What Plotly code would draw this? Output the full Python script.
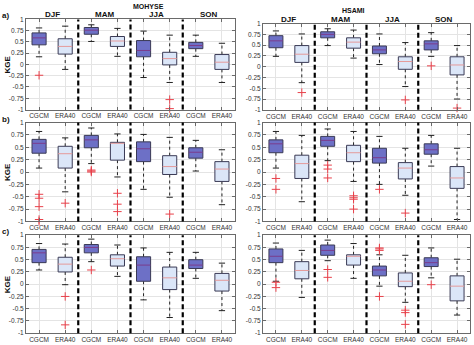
import plotly.graph_objects as go

# ---------------- data ----------------
SEASONS = ["DJF", "MAM", "JJA", "SON"]
CATEGORIES = ["CGCM", "ERA40", "CGCM", "ERA40", "CGCM", "ERA40", "CGCM", "ERA40"]
Y_TICKS = [-1, -0.75, -0.5, -0.25, 0, 0.25, 0.5, 0.75, 1]
Y_TICK_TEXT = ["-1", "-0.75", "-0.5", "-0.25", "0", "0.25", "0.5", "0.75", "1"]
MODELS = ["MOHYSE", "HSAMI"]
PANEL_LABELS = ["a)", "b)", "c)"]

# each row: [lower whisker, q1, median, q3, upper whisker]
mohyse_a = [[0.17, 0.435, 0.59, 0.70, 0.81], [-0.11, 0.23, 0.40, 0.57, 0.85],
            [0.51, 0.67, 0.76, 0.82, 0.88], [0.18, 0.40, 0.52, 0.62, 0.80],
            [-0.29, 0.17, 0.31, 0.53, 0.74], [-0.40, -0.01, 0.13, 0.27, 0.65],
            [0.18, 0.35, 0.42, 0.49, 0.65], [-0.40, -0.11, 0.05, 0.22, 0.47]]
mohyse_a_out = [[-0.24], [], [], [], [], [-0.78, -0.98], [], []]

hsami_a = [[0.24, 0.44, 0.60, 0.72, 0.83], [-0.37, 0.10, 0.29, 0.49, 0.76],
           [0.49, 0.67, 0.75, 0.81, 0.88], [0.20, 0.43, 0.57, 0.67, 0.85],
           [0.05, 0.30, 0.39, 0.48, 0.76], [-0.46, -0.06, 0.12, 0.23, 0.56],
           [0.24, 0.39, 0.53, 0.60, 0.79], [-0.75, -0.19, 0.04, 0.23, 0.49]]
hsami_a_out = [[], [-0.60], [], [], [], [-0.77], [0.02], [-0.96]]

mohyse_b = [[0.08, 0.38, 0.58, 0.66, 0.82], [-0.40, 0.08, 0.37, 0.52, 0.69],
            [0.17, 0.49, 0.65, 0.74, 0.89], [-0.10, 0.24, 0.58, 0.60, 0.77],
            [-0.35, 0.21, 0.47, 0.61, 0.76], [-0.51, -0.05, 0.11, 0.33, 0.70],
            [0.02, 0.28, 0.40, 0.49, 0.64], [-0.66, -0.19, 0.06, 0.21, 0.45]]
mohyse_b_out = [[-0.45, -0.53, -0.70, -0.96, -1.0], [-0.63], [0.04, 0.02, 0.0],
                [-0.43, -0.65, -0.80], [], [-0.85], [], []]

hsami_b = [[0.08, 0.39, 0.57, 0.65, 0.82], [-0.60, -0.13, 0.17, 0.34, 0.74],
           [0.23, 0.52, 0.64, 0.72, 0.87], [-0.19, 0.21, 0.39, 0.54, 0.82],
           [-0.25, 0.18, 0.29, 0.48, 0.72], [-0.47, -0.14, 0.08, 0.19, 0.48],
           [0.12, 0.36, 0.45, 0.57, 0.74], [-0.96, -0.33, -0.12, 0.11, 0.48]]
hsami_b_out = [[-0.13, -0.35], [], [0.14, 0.06, -0.12], [-0.48, -0.52, -0.55, -0.75],
               [-0.35], [-0.83], [], []]

mohyse_c = [[0.29, 0.44, 0.64, 0.71, 0.83], [-0.01, 0.25, 0.41, 0.55, 0.82],
            [0.46, 0.64, 0.75, 0.81, 0.92], [0.16, 0.37, 0.52, 0.60, 0.80],
            [-0.32, 0.06, 0.39, 0.56, 0.74], [-0.68, -0.11, 0.13, 0.35, 0.65],
            [0.12, 0.32, 0.39, 0.50, 0.65], [-0.54, -0.14, 0.08, 0.22, 0.43]]
mohyse_c_out = [[], [-0.25, -0.83], [0.29], [], [], [], [], []]

hsami_c = [[0.06, 0.44, 0.57, 0.72, 0.84], [-0.27, 0.11, 0.28, 0.46, 0.69],
           [0.48, 0.59, 0.69, 0.80, 0.90], [0.12, 0.39, 0.57, 0.60, 0.83],
           [-0.04, 0.17, 0.29, 0.37, 0.60], [-0.37, -0.05, 0.06, 0.23, 0.59],
           [0.13, 0.36, 0.44, 0.54, 0.74], [-0.63, -0.34, -0.04, 0.17, 0.51]]
hsami_c_out = [[0.04, -0.07], [], [0.30, 0.14], [], [0.74, 0.72, 0.69, -0.25],
               [-0.53, -0.58, -0.82], [-0.01], []]

PANELS = [(mohyse_a, mohyse_a_out), (hsami_a, hsami_a_out),
          (mohyse_b, mohyse_b_out), (hsami_b, hsami_b_out),
          (mohyse_c, mohyse_c_out), (hsami_c, hsami_c_out)]

# ---------------- styling / layout ----------------
W, H = 474, 345
FONT = "Liberation Sans, Arial, sans-serif"
FILL = ["#6d70c6", "#dbe6f8"]
MEDIAN = ["#7b3c8c", "#e59a9a"]
EDGE = "#3a3a55"
HW, CW = 0.27, 0.12
TICKFONT = dict(size=6.5, color="#333333", family=FONT)

X_DOM = [[26 / W, 235 / W], [263 / W, 470 / W]]
# pixel top/bottom per (row, col)
Y_PIX = {(0, 0): (15.7, 107.7), (0, 1): (20, 108),
         (1, 0): (121, 222), (1, 1): (121, 222),
         (2, 0): (236, 336), (2, 1): (236, 336)}

fig = go.Figure()
layout_axes = {}

for k, (stats, outs) in enumerate(PANELS):
    r, c = divmod(k, 2)
    sfx = "" if k == 0 else str(k + 1)
    xa, ya = "x" + sfx, "y" + sfx
    top, bot = Y_PIX[(r, c)]
    layout_axes["xaxis" + sfx] = dict(
        domain=X_DOM[c], anchor=ya, range=[0.5, 8.5],
        tickvals=list(range(1, 9)), ticktext=CATEGORIES,
        showgrid=True, gridcolor="#e4e4e4", gridwidth=1,
        showline=True, linecolor="#6a6a6a", linewidth=1, mirror="ticks",
        ticks="inside", ticklen=3, tickcolor="#6a6a6a",
        tickfont=TICKFONT, zeroline=False)
    layout_axes["yaxis" + sfx] = dict(
        domain=[1 - bot / H, 1 - top / H], anchor=xa, range=[-1, 1],
        tickvals=Y_TICKS, ticktext=Y_TICK_TEXT,
        showgrid=True, gridcolor="#e4e4e4", gridwidth=1,
        showline=True, linecolor="#6a6a6a", linewidth=1, mirror="ticks",
        ticks="inside", ticklen=3, tickcolor="#6a6a6a",
        tickfont=TICKFONT, zeroline=False)

    # whiskers (dotted) and caps
    wx, wy, cx, cy = [], [], [], []
    for i, (lo, q1, md, q3, hi) in enumerate(stats):
        p = i + 1
        wx += [p, p, None, p, p, None]
        wy += [q3, hi, None, q1, lo, None]
        cx += [p - CW, p + CW, None, p - CW, p + CW, None]
        cy += [hi, hi, None, lo, lo, None]
    fig.add_trace(go.Scatter(x=wx, y=wy, mode="lines", xaxis=xa, yaxis=ya,
                             line=dict(color="#222222", width=1, dash="dot"),
                             hoverinfo="skip"))
    fig.add_trace(go.Scatter(x=cx, y=cy, mode="lines", xaxis=xa, yaxis=ya,
                             line=dict(color="#222222", width=1), hoverinfo="skip"))

    # boxes and medians per category
    for kind in (0, 1):
        bx, by, mx, my = [], [], [], []
        for i in range(kind, 8, 2):
            p = i + 1
            lo, q1, md, q3, hi = stats[i]
            bx += [p - HW, p + HW, p + HW, p - HW, p - HW, None]
            by += [q1, q1, q3, q3, q1, None]
            mx += [p - HW, p + HW, None]
            my += [md, md, None]
        fig.add_trace(go.Scatter(x=bx, y=by, mode="lines", fill="toself",
                                 fillcolor=FILL[kind], xaxis=xa, yaxis=ya,
                                 line=dict(color=EDGE, width=1), hoverinfo="skip"))
        fig.add_trace(go.Scatter(x=mx, y=my, mode="lines", xaxis=xa, yaxis=ya,
                                 line=dict(color=MEDIAN[kind], width=1),
                                 hoverinfo="skip"))

    # outliers
    ox, oy = [], []
    for i, vals in enumerate(outs):
        for v in vals:
            ox.append(i + 1)
            oy.append(v)
    fig.add_trace(go.Scatter(x=ox, y=oy, mode="markers", xaxis=xa, yaxis=ya,
                             cliponaxis=False,
                             marker=dict(symbol="cross-thin", size=6,
                                         line=dict(color="#e8404a", width=1)),
                             hoverinfo="skip"))

    # season separators
    for s in range(1, len(SEASONS)):
        xs = 2 * s + 0.5
        fig.add_shape(type="line", xref=xa, yref=ya + " domain", x0=xs, x1=xs,
                      y0=0, y1=1, line=dict(color="black", width=2.2, dash="5px,3px"))

    # season titles on the top row
    if r == 0:
        for s, name in enumerate(SEASONS):
            fig.add_annotation(text="<b>%s</b>" % name, xref=xa, yref="paper",
                               x=2 * s + 1.5, y=1 - (top - 4.5) / H, yanchor="middle",
                               showarrow=False,
                               font=dict(size=8, color="#111111", family=FONT))
        fig.add_annotation(text="<b>%s</b>" % MODELS[c], xref="paper", yref="paper",
                           x=sum(X_DOM[c]) / 2, y=1 - (top - 13.2) / H,
                           yanchor="middle", showarrow=False,
                           font=dict(size=7, color="#111111", family=FONT))
    if c == 0:
        fig.add_annotation(text="<b>%s</b>" % PANEL_LABELS[r], xref="paper",
                           yref="paper", x=0.0, xanchor="left",
                           y=1 - (top - 3.5) / H, yanchor="middle", showarrow=False,
                           font=dict(size=8, color="#111111", family=FONT))
        fig.add_annotation(text="<b>KGE</b>", xref="paper", yref="paper",
                           x=7 / W, y=1 - (top + bot) / 2 / H, textangle=-90,
                           xanchor="center", yanchor="middle", showarrow=False,
                           font=dict(size=8, color="#111111", family=FONT))

fig.update_layout(width=W, height=H, margin=dict(l=0, r=0, t=0, b=0),
                  plot_bgcolor="white", paper_bgcolor="white", showlegend=False,
                  **layout_axes)

fig.write_html("out.html")
